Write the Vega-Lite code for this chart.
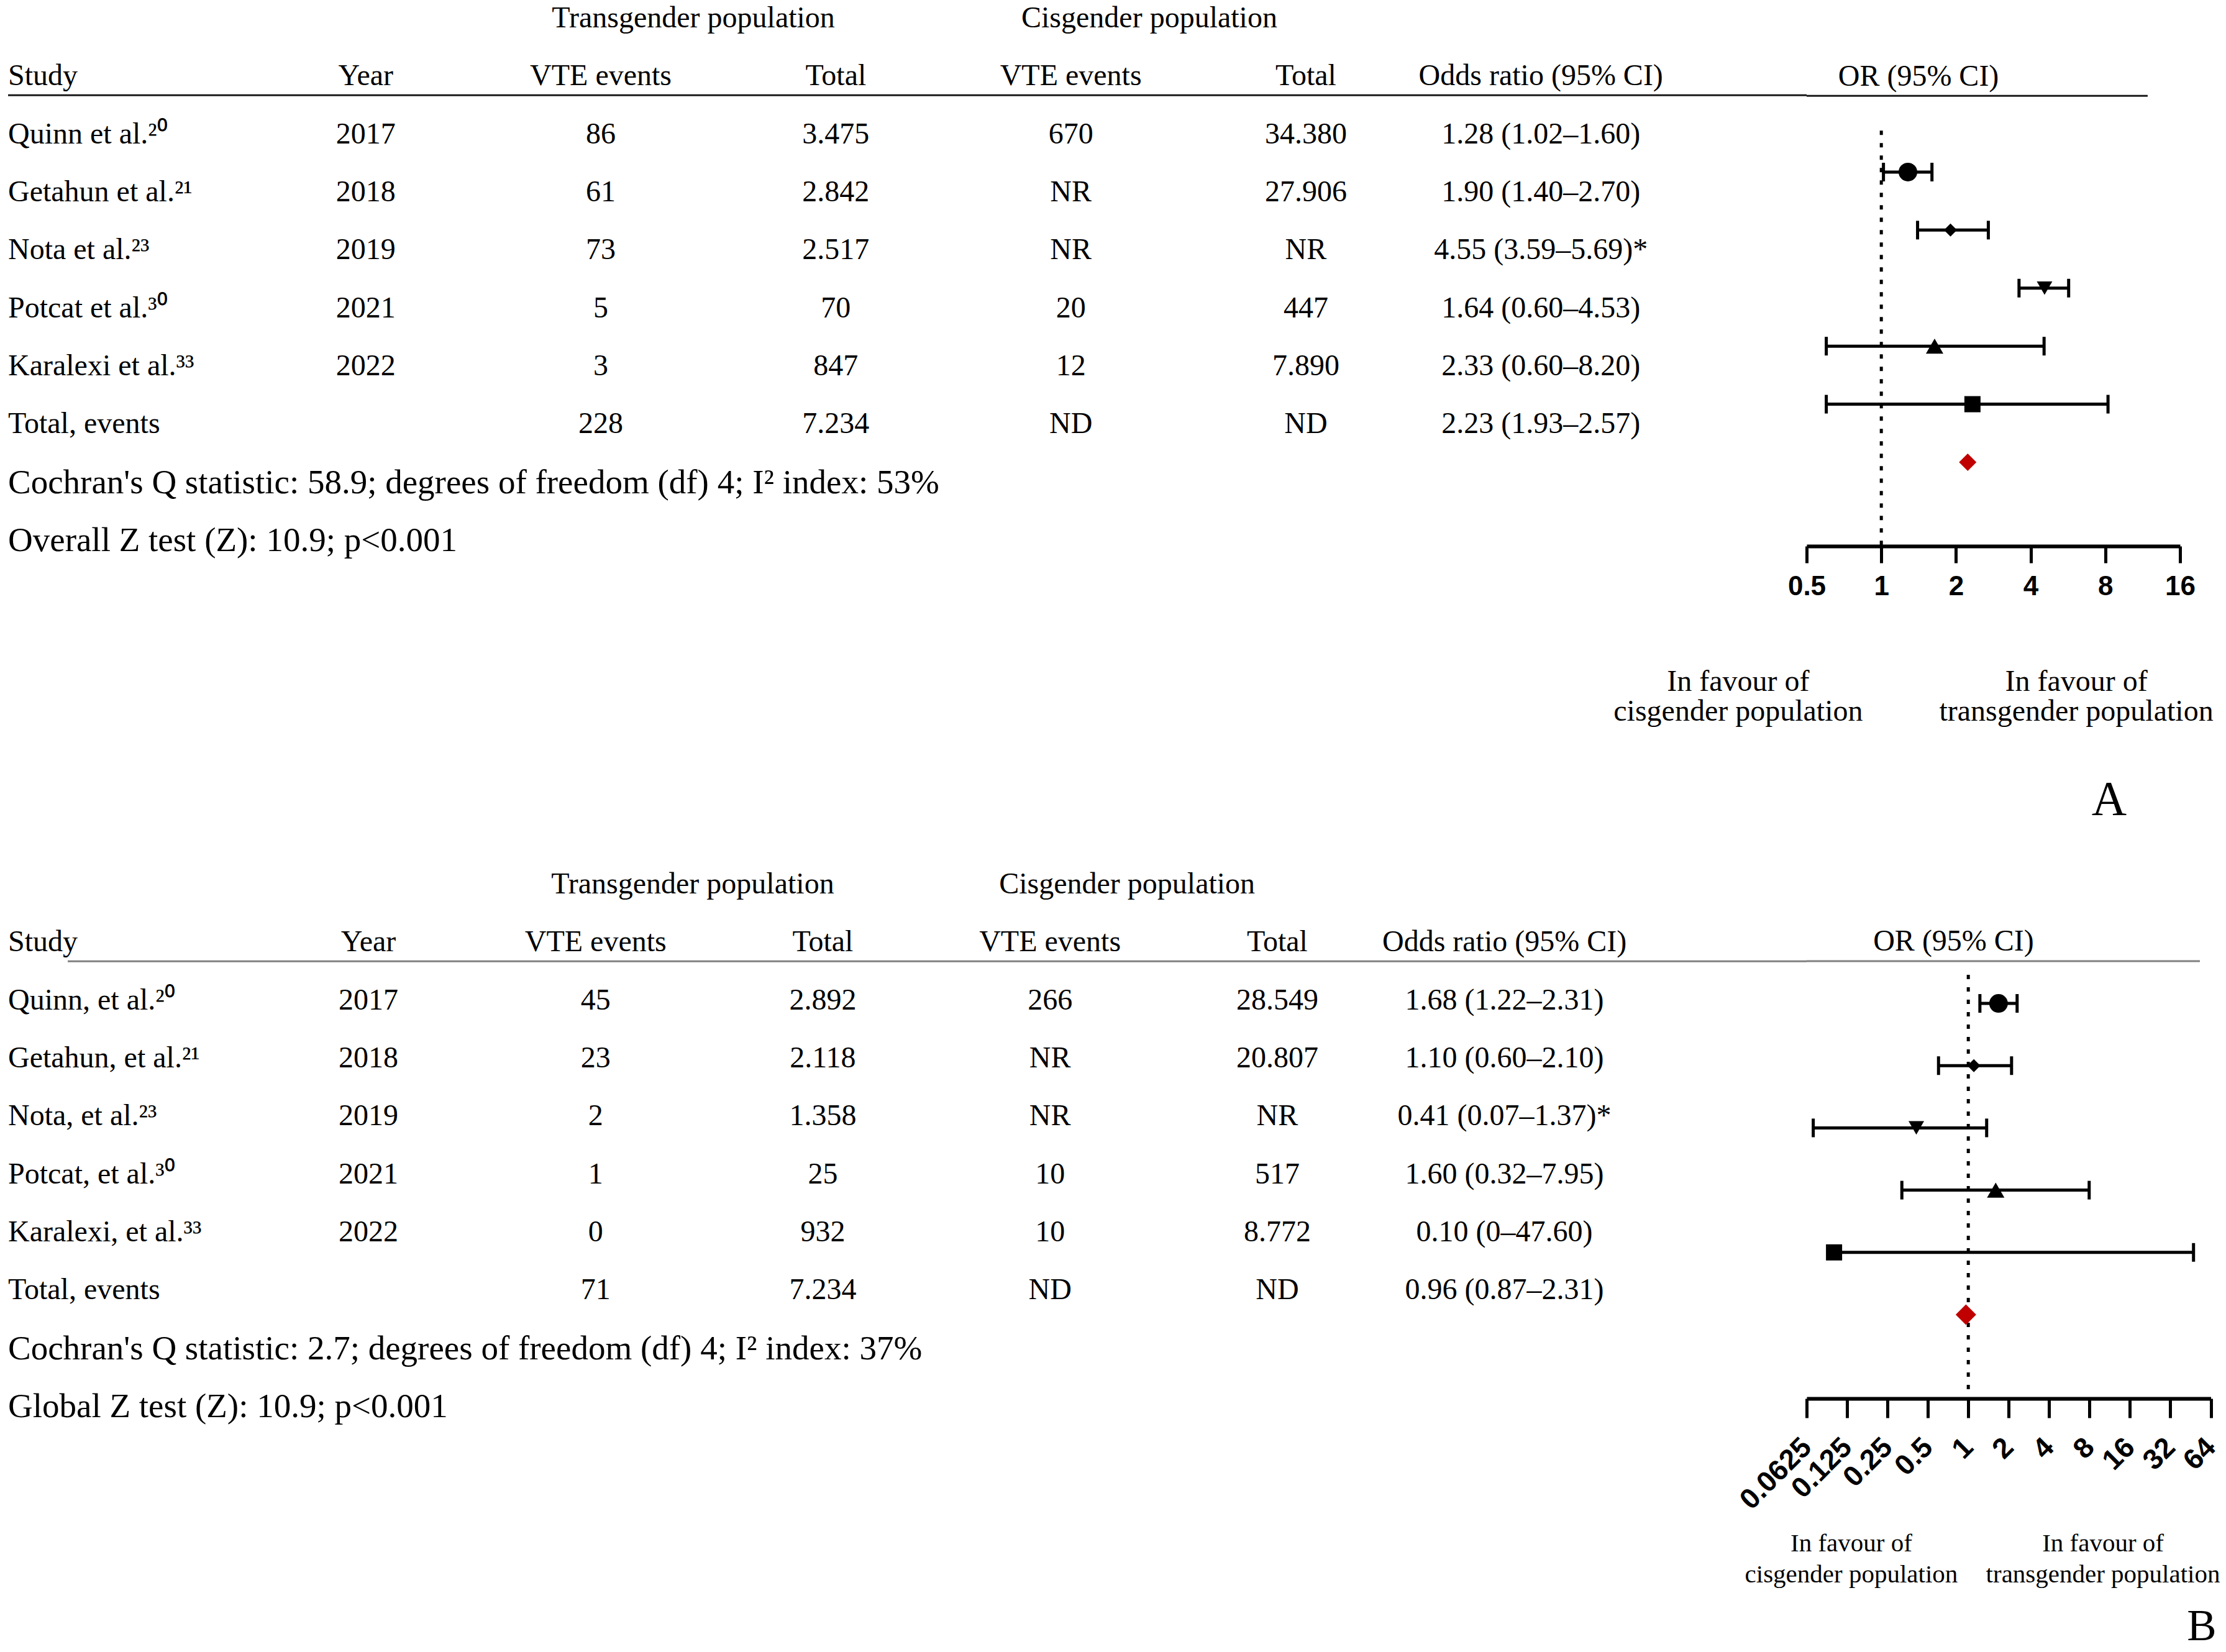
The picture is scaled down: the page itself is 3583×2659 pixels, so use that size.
{
"$schema": "https://vega.github.io/schema/vega-lite/v6.json",
"background": "white",
"padding": {"left": 11, "top": 6, "right": 0, "bottom": 0},
"config": {"view": {"stroke": null}},
"columns": 2,
"spacing": 0,
"align": "each",
"bounds": "flush",
"datasets": {
"cellsA": [
{"r":"header","c":"Study","t":"Study"},{"r":"header","c":"Year","t":"Year"},{"r":"header","c":"TV","t":"VTE events"},{"r":"header","c":"TT","t":"Total"},{"r":"header","c":"CV","t":"VTE events"},{"r":"header","c":"CT","t":"Total"},{"r":"header","c":"OR","t":"Odds ratio (95% CI)"},
{"r":"Quinn","c":"Study","t":"Quinn et al.²⁰"},{"r":"Quinn","c":"Year","t":"2017"},{"r":"Quinn","c":"TV","t":"86"},{"r":"Quinn","c":"TT","t":"3.475"},{"r":"Quinn","c":"CV","t":"670"},{"r":"Quinn","c":"CT","t":"34.380"},{"r":"Quinn","c":"OR","t":"1.28 (1.02–1.60)"},
{"r":"Getahun","c":"Study","t":"Getahun et al.²¹"},{"r":"Getahun","c":"Year","t":"2018"},{"r":"Getahun","c":"TV","t":"61"},{"r":"Getahun","c":"TT","t":"2.842"},{"r":"Getahun","c":"CV","t":"NR"},{"r":"Getahun","c":"CT","t":"27.906"},{"r":"Getahun","c":"OR","t":"1.90 (1.40–2.70)"},
{"r":"Nota","c":"Study","t":"Nota et al.²³"},{"r":"Nota","c":"Year","t":"2019"},{"r":"Nota","c":"TV","t":"73"},{"r":"Nota","c":"TT","t":"2.517"},{"r":"Nota","c":"CV","t":"NR"},{"r":"Nota","c":"CT","t":"NR"},{"r":"Nota","c":"OR","t":"4.55 (3.59–5.69)*"},
{"r":"Potcat","c":"Study","t":"Potcat et al.³⁰"},{"r":"Potcat","c":"Year","t":"2021"},{"r":"Potcat","c":"TV","t":"5"},{"r":"Potcat","c":"TT","t":"70"},{"r":"Potcat","c":"CV","t":"20"},{"r":"Potcat","c":"CT","t":"447"},{"r":"Potcat","c":"OR","t":"1.64 (0.60–4.53)"},
{"r":"Karalexi","c":"Study","t":"Karalexi et al.³³"},{"r":"Karalexi","c":"Year","t":"2022"},{"r":"Karalexi","c":"TV","t":"3"},{"r":"Karalexi","c":"TT","t":"847"},{"r":"Karalexi","c":"CV","t":"12"},{"r":"Karalexi","c":"CT","t":"7.890"},{"r":"Karalexi","c":"OR","t":"2.33 (0.60–8.20)"},
{"r":"Total","c":"Study","t":"Total, events"},{"r":"Total","c":"TV","t":"228"},{"r":"Total","c":"TT","t":"7.234"},{"r":"Total","c":"CV","t":"ND"},{"r":"Total","c":"CT","t":"ND"},{"r":"Total","c":"OR","t":"2.23 (1.93–2.57)"},
{"r":"Cochran","c":"Study","t":"Cochran's Q statistic: 58.9; degrees of freedom (df) 4; I² index: 53%"},
{"r":"Z","c":"Study","t":"Overall Z test (Z): 10.9; p<0.001"}
],
"cellsB": [
{"r":"header","c":"Study","t":"Study"},{"r":"header","c":"Year","t":"Year"},{"r":"header","c":"TV","t":"VTE events"},{"r":"header","c":"TT","t":"Total"},{"r":"header","c":"CV","t":"VTE events"},{"r":"header","c":"CT","t":"Total"},{"r":"header","c":"OR","t":"Odds ratio (95% CI)"},
{"r":"Quinn","c":"Study","t":"Quinn, et al.²⁰"},{"r":"Quinn","c":"Year","t":"2017"},{"r":"Quinn","c":"TV","t":"45"},{"r":"Quinn","c":"TT","t":"2.892"},{"r":"Quinn","c":"CV","t":"266"},{"r":"Quinn","c":"CT","t":"28.549"},{"r":"Quinn","c":"OR","t":"1.68 (1.22–2.31)"},
{"r":"Getahun","c":"Study","t":"Getahun, et al.²¹"},{"r":"Getahun","c":"Year","t":"2018"},{"r":"Getahun","c":"TV","t":"23"},{"r":"Getahun","c":"TT","t":"2.118"},{"r":"Getahun","c":"CV","t":"NR"},{"r":"Getahun","c":"CT","t":"20.807"},{"r":"Getahun","c":"OR","t":"1.10 (0.60–2.10)"},
{"r":"Nota","c":"Study","t":"Nota, et al.²³"},{"r":"Nota","c":"Year","t":"2019"},{"r":"Nota","c":"TV","t":"2"},{"r":"Nota","c":"TT","t":"1.358"},{"r":"Nota","c":"CV","t":"NR"},{"r":"Nota","c":"CT","t":"NR"},{"r":"Nota","c":"OR","t":"0.41 (0.07–1.37)*"},
{"r":"Potcat","c":"Study","t":"Potcat, et al.³⁰"},{"r":"Potcat","c":"Year","t":"2021"},{"r":"Potcat","c":"TV","t":"1"},{"r":"Potcat","c":"TT","t":"25"},{"r":"Potcat","c":"CV","t":"10"},{"r":"Potcat","c":"CT","t":"517"},{"r":"Potcat","c":"OR","t":"1.60 (0.32–7.95)"},
{"r":"Karalexi","c":"Study","t":"Karalexi, et al.³³"},{"r":"Karalexi","c":"Year","t":"2022"},{"r":"Karalexi","c":"TV","t":"0"},{"r":"Karalexi","c":"TT","t":"932"},{"r":"Karalexi","c":"CV","t":"10"},{"r":"Karalexi","c":"CT","t":"8.772"},{"r":"Karalexi","c":"OR","t":"0.10 (0–47.60)"},
{"r":"Total","c":"Study","t":"Total, events"},{"r":"Total","c":"TV","t":"71"},{"r":"Total","c":"TT","t":"7.234"},{"r":"Total","c":"CV","t":"ND"},{"r":"Total","c":"CT","t":"ND"},{"r":"Total","c":"OR","t":"0.96 (0.87–2.31)"},
{"r":"Cochran","c":"Study","t":"Cochran's Q statistic: 2.7; degrees of freedom (df) 4; I² index: 37%"},
{"r":"Z","c":"Study","t":"Global Z test (Z): 10.9; p<0.001"}
],
"groups": [{"c":"TV","t":"Transgender population"},{"c":"CV","t":"Cisgender population"}],
"studiesA": [
{"s":"Quinn","or":1.28,"lo":1.02,"hi":1.60},
{"s":"Getahun","or":1.90,"lo":1.40,"hi":2.70},
{"s":"Nota","or":4.55,"lo":3.59,"hi":5.69},
{"s":"Potcat","or":1.64,"lo":0.60,"hi":4.53},
{"s":"Karalexi","or":2.33,"lo":0.60,"hi":8.20},
{"s":"Total","or":2.23,"lo":1.93,"hi":2.57}
],
"studiesB": [
{"s":"Quinn","or":1.68,"lo":1.22,"hi":2.31},
{"s":"Getahun","or":1.10,"lo":0.60,"hi":2.10},
{"s":"Nota","or":0.41,"lo":0.07,"hi":1.37},
{"s":"Potcat","or":1.60,"lo":0.32,"hi":7.95},
{"s":"Karalexi","or":0.10,"lo":0,"hi":47.60},
{"s":"Total","or":0.96,"lo":0.87,"hi":2.31}
]
},
"concat": [
{
"width": 2895, "height": 840,
"layer": [
{"data": {"name": "cellsA"}, "transform": [{"filter": "datum.c === 'Study' && datum.r !== 'Cochran' && datum.r !== 'Z'"}],
 "mark": {"type": "text", "align": "left", "baseline": "middle", "font": "Liberation Serif", "fontSize": 48, "color": "#000"},
 "encoding": {
  "x": {"field": "c", "type": "nominal", "bandPosition": 0, "scale": {"type": "band", "domain": ["Study","Year","TV","TT","CV","CT","OR"], "paddingInner": 0, "paddingOuter": 0.3264, "align": 0}, "axis": null},
  "y": {"field": "r", "type": "nominal", "scale": {"type": "point", "domain": ["group","header","Quinn","Getahun","Nota","Potcat","Karalexi","Total","Cochran","Z"], "padding": 0}, "axis": null},
  "text": {"field": "t", "type": "nominal"}}},
{"data": {"name": "cellsA"}, "transform": [{"filter": "datum.r === 'Cochran' || datum.r === 'Z'"}],
 "mark": {"type": "text", "align": "left", "baseline": "middle", "font": "Liberation Serif", "fontSize": 55, "color": "#000"},
 "encoding": {
  "x": {"field": "c", "type": "nominal", "bandPosition": 0},
  "y": {"field": "r", "type": "nominal"},
  "text": {"field": "t", "type": "nominal"}}},
{"data": {"name": "cellsA"}, "transform": [{"filter": "datum.c !== 'Study'"}],
 "mark": {"type": "text", "align": "center", "baseline": "middle", "font": "Liberation Serif", "fontSize": 48, "color": "#000"},
 "encoding": {
  "x": {"field": "c", "type": "nominal", "bandPosition": 0.522},
  "y": {"field": "r", "type": "nominal"},
  "text": {"field": "t", "type": "nominal"}}},
{"data": {"name": "groups"}, "transform": [{"filter": "datum.c === 'TV'"}],
 "mark": {"type": "text", "align": "center", "baseline": "middle", "font": "Liberation Serif", "fontSize": 48, "color": "#000"},
 "encoding": {
  "x": {"field": "c", "type": "nominal", "bandPosition": 0.916},
  "y": {"datum": "group", "type": "nominal"},
  "text": {"field": "t", "type": "nominal"}}},
{"data": {"name": "groups"}, "transform": [{"filter": "datum.c === 'CV'"}],
 "mark": {"type": "text", "align": "center", "baseline": "middle", "font": "Liberation Serif", "fontSize": 48, "color": "#000"},
 "encoding": {
  "x": {"field": "c", "type": "nominal", "bandPosition": 0.856},
  "y": {"datum": "group", "type": "nominal"},
  "text": {"field": "t", "type": "nominal"}}},
{"data": {"values": [{}]},
 "mark": {"type": "rule", "color": "#1a1a1a", "strokeWidth": 3, "yOffset": 30},
 "encoding": {
  "x": {"datum": "Study", "type": "nominal", "bandPosition": 0},
  "x2": {"value": "width"},
  "y": {"datum": "header", "type": "nominal"}}}
]
},
{
"width": 601, "height": 849,
"resolve": {"scale": {"y": "independent"}},
"layer": [
{"data": {"values": [{}]},
 "layer": [
  {"mark": {"type": "text", "align": "center", "baseline": "middle", "font": "Liberation Serif", "fontSize": 48, "color": "#000"},
   "encoding": {
    "x": {"datum": 1.412, "type": "quantitative", "scale": {"type": "log", "base": 2, "domain": [0.5, 16], "nice": false}},
    "y": {"datum": "header", "type": "nominal", "scale": {"type": "point", "domain": ["group","header","Quinn","Getahun","Nota","Potcat","Karalexi","Total","Cochran","Z"], "padding": 0}, "axis": null},
    "text": {"value": "OR (95% CI)"}}},
  {"mark": {"type": "rule", "color": "#1a1a1a", "strokeWidth": 3, "yOffset": 30},
   "encoding": {
    "x": {"datum": 0.5, "type": "quantitative"},
    "x2": {"datum": 11.85},
    "y": {"datum": "header", "type": "nominal"}}},
  {"mark": {"type": "rule", "color": "#000", "strokeWidth": 5, "strokeDash": [7, 13], "yOffset": 86},
   "encoding": {
    "x": {"datum": 1, "type": "quantitative"},
    "y": {"datum": "header", "type": "nominal"},
    "y2": {"value": "height"}}}
 ]},
{"data": {"name": "studiesA"},
 "layer": [
  {"transform": [{"filter": "datum.s !== 'Total' && datum.lo > 0"}],
   "mark": {"type": "rule", "color": "#000", "strokeWidth": 5},
   "encoding": {
    "x": {"field": "lo", "type": "quantitative", "scale": {"type": "log", "base": 2, "domain": [0.5, 16], "nice": false},
          "axis": {"orient": "bottom", "values": [0.5, 1, 2, 4, 8, 16], "format": "~g", "title": null, "grid": false, "domainColor": "#000", "domainWidth": 6, "tickColor": "#000", "tickWidth": 5, "tickSize": 27, "labelFont": "Liberation Sans", "labelFontWeight": "bold", "labelFontSize": 44, "labelColor": "#000", "labelPadding": 16, "labelFlush": false, "labelOverlap": false}},
    "x2": {"field": "or"},
    "y": {"field": "s", "type": "nominal", "scale": {"type": "point", "domain": ["group","header","Quinn","Getahun","Nota","Potcat","Karalexi","Total","stats"], "padding": 0.545, "align": 0.591}, "axis": null}}},
  {"transform": [{"filter": "datum.s !== 'Total'"}],
   "mark": {"type": "rule", "color": "#000", "strokeWidth": 5},
   "encoding": {
    "x": {"field": "or", "type": "quantitative"},
    "x2": {"field": "hi"},
    "y": {"field": "s", "type": "nominal"}}},
  {"transform": [{"filter": "datum.s !== 'Total' && datum.lo > 0"}],
   "mark": {"type": "tick", "orient": "vertical", "thickness": 5, "size": 30, "color": "#000", "opacity": 1},
   "encoding": {
    "x": {"field": "lo", "type": "quantitative"},
    "y": {"field": "s", "type": "nominal"}}},
  {"transform": [{"filter": "datum.s !== 'Total'"}],
   "mark": {"type": "tick", "orient": "vertical", "thickness": 5, "size": 30, "color": "#000", "opacity": 1},
   "encoding": {
    "x": {"field": "hi", "type": "quantitative"},
    "y": {"field": "s", "type": "nominal"}}},
  {"transform": [{"filter": "datum.s !== 'Total'"}],
   "mark": {"type": "point", "filled": true, "opacity": 1, "color": "#000"},
   "encoding": {
    "x": {"field": "or", "type": "quantitative"},
    "y": {"field": "s", "type": "nominal"},
    "shape": {"field": "s", "type": "nominal", "scale": {"domain": ["Quinn","Getahun","Nota","Potcat","Karalexi"], "range": ["circle","diamond","triangle-down","triangle-up","square"]}, "legend": null},
    "size": {"field": "s", "type": "nominal", "scale": {"type": "ordinal", "domain": ["Quinn","Getahun","Nota","Potcat","Karalexi"], "range": [900, 441, 625, 784, 676]}, "legend": null}}},
  {"transform": [{"filter": "datum.s === 'Total'"}],
   "mark": {"type": "point", "filled": true, "opacity": 1, "color": "#C00000", "shape": "diamond", "size": 784},
   "encoding": {
    "x": {"field": "or", "type": "quantitative"},
    "y": {"field": "s", "type": "nominal"}}}
 ]}
]
},
{"width": 2895, "height": 1, "data": {"values": [{}]}, "mark": {"type": "text"}, "encoding": {"text": {"value": ""}}},
{
"width": 601, "height": 545,
"data": {"values": [{}]},
"layer": [
 {"mark": {"type": "text", "align": "center", "baseline": "middle", "font": "Liberation Serif", "fontSize": 48, "lineHeight": 48, "color": "#000"},
  "encoding": {
   "x": {"datum": 0.265, "type": "quantitative", "scale": {"type": "log", "base": 2, "domain": [0.5, 16], "nice": false}, "axis": null},
   "y": {"datum": "fav", "type": "nominal", "scale": {"type": "point", "domain": ["fav", "letter"], "padding": 0.934, "align": 0.617}, "axis": null},
   "text": {"value": ["In favour of", "cisgender population"]}}},
 {"mark": {"type": "text", "align": "center", "baseline": "middle", "font": "Liberation Serif", "fontSize": 48, "lineHeight": 48, "color": "#000"},
  "encoding": {
   "x": {"datum": 6.11, "type": "quantitative"},
   "y": {"datum": "fav", "type": "nominal"},
   "text": {"value": ["In favour of", "transgender population"]}}},
 {"mark": {"type": "text", "align": "center", "baseline": "middle", "font": "Liberation Serif", "fontSize": 78, "color": "#000"},
  "encoding": {
   "x": {"datum": 8.29, "type": "quantitative"},
   "y": {"datum": "letter", "type": "nominal"},
   "text": {"value": "A"}}}
]
},
{
"width": 2895, "height": 840,
"layer": [
{"data": {"name": "cellsB"}, "transform": [{"filter": "datum.c === 'Study' && datum.r !== 'Cochran' && datum.r !== 'Z'"}],
 "mark": {"type": "text", "align": "left", "baseline": "middle", "font": "Liberation Serif", "fontSize": 48, "color": "#000"},
 "encoding": {
  "x": {"field": "c", "type": "nominal", "bandPosition": 0, "scale": {"type": "band", "domain": ["Study","Year","TV","TT","CV","CT","OR"], "paddingInner": 0, "paddingOuter": 0.458, "align": 0}, "axis": null},
  "y": {"field": "r", "type": "nominal", "scale": {"type": "point", "domain": ["group","header","Quinn","Getahun","Nota","Potcat","Karalexi","Total","Cochran","Z"], "padding": 0}, "axis": null},
  "text": {"field": "t", "type": "nominal"}}},
{"data": {"name": "cellsB"}, "transform": [{"filter": "datum.r === 'Cochran' || datum.r === 'Z'"}],
 "mark": {"type": "text", "align": "left", "baseline": "middle", "font": "Liberation Serif", "fontSize": 55, "color": "#000"},
 "encoding": {
  "x": {"field": "c", "type": "nominal", "bandPosition": 0},
  "y": {"field": "r", "type": "nominal"},
  "text": {"field": "t", "type": "nominal"}}},
{"data": {"name": "cellsB"}, "transform": [{"filter": "datum.c !== 'Study'"}],
 "mark": {"type": "text", "align": "center", "baseline": "middle", "font": "Liberation Serif", "fontSize": 48, "color": "#000"},
 "encoding": {
  "x": {"field": "c", "type": "nominal", "bandPosition": 0.586},
  "y": {"field": "r", "type": "nominal"},
  "text": {"field": "t", "type": "nominal"}}},
{"data": {"name": "groups"}, "transform": [{"filter": "datum.c === 'TV'"}],
 "mark": {"type": "text", "align": "center", "baseline": "middle", "font": "Liberation Serif", "fontSize": 48, "color": "#000"},
 "encoding": {
  "x": {"field": "c", "type": "nominal", "bandPosition": 1.013},
  "y": {"datum": "group", "type": "nominal"},
  "text": {"field": "t", "type": "nominal"}}},
{"data": {"name": "groups"}, "transform": [{"filter": "datum.c === 'CV'"}],
 "mark": {"type": "text", "align": "center", "baseline": "middle", "font": "Liberation Serif", "fontSize": 48, "color": "#000"},
 "encoding": {
  "x": {"field": "c", "type": "nominal", "bandPosition": 0.925},
  "y": {"datum": "group", "type": "nominal"},
  "text": {"field": "t", "type": "nominal"}}},
{"data": {"values": [{}]},
 "mark": {"type": "rule", "color": "#808080", "strokeWidth": 3, "yOffset": 30},
 "encoding": {
  "x": {"datum": "Study", "type": "nominal", "bandPosition": 0.2625},
  "x2": {"value": "width"},
  "y": {"datum": "header", "type": "nominal"}}}
]
},
{
"width": 650.5, "height": 827,
"resolve": {"scale": {"y": "independent"}},
"layer": [
{"data": {"values": [{}]},
 "layer": [
  {"mark": {"type": "text", "align": "center", "baseline": "middle", "font": "Liberation Serif", "fontSize": 48, "color": "#000"},
   "encoding": {
    "x": {"datum": 0.777, "type": "quantitative", "scale": {"type": "log", "base": 2, "domain": [0.0625, 64], "nice": false}},
    "y": {"datum": "header", "type": "nominal", "scale": {"type": "point", "domain": ["group","header","Quinn","Getahun","Nota","Potcat","Karalexi","Total","Cochran","Z"], "padding": 0}, "axis": null},
    "text": {"value": "OR (95% CI)"}}},
  {"mark": {"type": "rule", "color": "#808080", "strokeWidth": 3, "yOffset": 31},
   "encoding": {
    "x": {"datum": 0.0625, "type": "quantitative"},
    "x2": {"datum": 53.1},
    "y": {"datum": "header", "type": "nominal"}}},
  {"mark": {"type": "rule", "color": "#000", "strokeWidth": 5, "strokeDash": [7, 13], "yOffset": 53},
   "encoding": {
    "x": {"datum": 1, "type": "quantitative"},
    "y": {"datum": "header", "type": "nominal"},
    "y2": {"value": "height"}}}
 ]},
{"data": {"name": "studiesB"},
 "layer": [
  {"transform": [{"filter": "datum.s !== 'Total' && datum.lo > 0"}],
   "mark": {"type": "rule", "color": "#000", "strokeWidth": 5},
   "encoding": {
    "x": {"field": "lo", "type": "quantitative", "scale": {"type": "log", "base": 2, "domain": [0.0625, 64], "nice": false},
          "axis": {"orient": "bottom", "values": [0.0625, 0.125, 0.25, 0.5, 1, 2, 4, 8, 16, 32, 64], "format": "~g", "title": null, "grid": false, "domainColor": "#000", "domainWidth": 6, "tickColor": "#000", "tickWidth": 5, "tickSize": 31, "labelFont": "Liberation Sans", "labelFontWeight": "bold", "labelFontSize": 46, "labelColor": "#000", "labelAngle": 315, "labelAlign": "right", "labelBaseline": "middle", "labelPadding": 40, "labelFlush": false, "labelOverlap": false}},
    "x2": {"field": "or"},
    "y": {"field": "s", "type": "nominal", "scale": {"type": "point", "domain": ["header","Quinn","Getahun","Nota","Potcat","Karalexi","Total","stats"], "padding": 0.627, "align": 0.723}, "axis": null}}},
  {"transform": [{"filter": "datum.s !== 'Total'"}],
   "mark": {"type": "rule", "color": "#000", "strokeWidth": 5},
   "encoding": {
    "x": {"field": "or", "type": "quantitative"},
    "x2": {"field": "hi"},
    "y": {"field": "s", "type": "nominal"}}},
  {"transform": [{"filter": "datum.s !== 'Total' && datum.lo > 0"}],
   "mark": {"type": "tick", "orient": "vertical", "thickness": 5, "size": 30, "color": "#000", "opacity": 1},
   "encoding": {
    "x": {"field": "lo", "type": "quantitative"},
    "y": {"field": "s", "type": "nominal"}}},
  {"transform": [{"filter": "datum.s !== 'Total'"}],
   "mark": {"type": "tick", "orient": "vertical", "thickness": 5, "size": 30, "color": "#000", "opacity": 1},
   "encoding": {
    "x": {"field": "hi", "type": "quantitative"},
    "y": {"field": "s", "type": "nominal"}}},
  {"transform": [{"filter": "datum.s !== 'Total'"}],
   "mark": {"type": "point", "filled": true, "opacity": 1, "color": "#000"},
   "encoding": {
    "x": {"field": "or", "type": "quantitative"},
    "y": {"field": "s", "type": "nominal"},
    "shape": {"field": "s", "type": "nominal", "scale": {"domain": ["Quinn","Getahun","Nota","Potcat","Karalexi"], "range": ["circle","diamond","triangle-down","triangle-up","square"]}, "legend": null},
    "size": {"field": "s", "type": "nominal", "scale": {"type": "ordinal", "domain": ["Quinn","Getahun","Nota","Potcat","Karalexi"], "range": [1296, 529, 900, 784, 961]}, "legend": null}}},
  {"transform": [{"filter": "datum.s === 'Total'"}],
   "mark": {"type": "point", "filled": true, "opacity": 1, "color": "#C00000", "shape": "diamond", "size": 1089},
   "encoding": {
    "x": {"field": "or", "type": "quantitative"},
    "y": {"field": "s", "type": "nominal"}}}
 ]}
]
},
{"width": 2895, "height": 1, "data": {"values": [{}]}, "mark": {"type": "text"}, "encoding": {"text": {"value": ""}}},
{
"width": 650.5, "height": 400,
"data": {"values": [{}]},
"layer": [
 {"mark": {"type": "text", "align": "center", "baseline": "middle", "font": "Liberation Serif", "fontSize": 41, "lineHeight": 50, "color": "#000"},
  "encoding": {
   "x": {"datum": 0.1345, "type": "quantitative", "scale": {"type": "log", "base": 2, "domain": [0.0625, 64], "nice": false}, "axis": null},
   "y": {"datum": "fav", "type": "nominal", "scale": {"type": "point", "domain": ["fav", "letter"], "padding": 0.9925, "align": 0.831}, "axis": null},
   "text": {"value": ["In favour of", "cisgender population"]}}},
 {"mark": {"type": "text", "align": "center", "baseline": "middle", "font": "Liberation Serif", "fontSize": 41, "lineHeight": 50, "color": "#000"},
  "encoding": {
   "x": {"datum": 10.08, "type": "quantitative"},
   "y": {"datum": "fav", "type": "nominal"},
   "text": {"value": ["In favour of", "transgender population"]}}},
 {"mark": {"type": "text", "align": "center", "baseline": "middle", "font": "Liberation Serif", "fontSize": 71, "color": "#000"},
  "encoding": {
   "x": {"datum": 54.8, "type": "quantitative"},
   "y": {"datum": "letter", "type": "nominal"},
   "text": {"value": "B"}}}
]
}
]
}
